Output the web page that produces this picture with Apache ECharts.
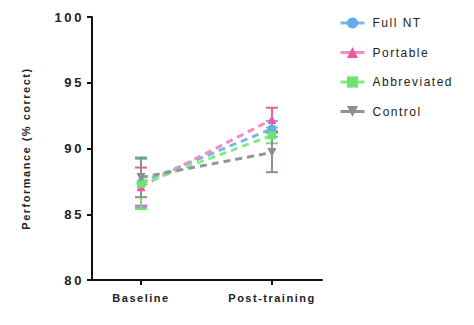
<!DOCTYPE html>
<html>
<head>
<meta charset="utf-8">
<script src="https://cdn.jsdelivr.net/npm/echarts@6/dist/echarts.min.js"></script>
<style>
html,body{margin:0;padding:0;background:#fff;}
#c{width:474px;height:325px;}
#c svg text{letter-spacing:1.5px;}
#c svg text[style*="13px"]{letter-spacing:2.6px;}
</style>
</head>
<body>
<div id="c"></div>
<script>
var categories = ['Baseline', 'Post-training'];
var seriesNames = ['Full NT', 'Portable', 'Abbreviated', 'Control'];
var fullNT = [87.4, 91.5];
var portable = [87.1, 92.2];
var abbreviated = [87.3, 91.0];
var control = [87.8, 89.7];
var fullNTErr = [1.9, 0.6];
var portableErr = [1.45, 0.9];
var abbreviatedErr = [1.9, 0.6];
var controlErr = [1.5, 1.5];
var yTicks = [80, 85, 90, 95, 100];

var lineColors = ['#78b8ee', '#f48cbf', '#84ea84', '#8d9796'];
var markColors = ['#62aee9', '#ee5aa2', '#6fe36f', '#87918f'];
var symbols = ['circle', 'triangle', 'rect', 'triangle'];
var rotates = [0, 0, 0, 180];
var means = [fullNT, portable, abbreviated, control];
var errs = [fullNTErr, portableErr, abbreviatedErr, controlErr];

var font = 'Liberation Sans';
var series = [];
means.forEach(function (m, s) {
  var errData = m.map(function (v, i) { return [i, v - errs[s][i], v + errs[s][i]]; });
  series.push({
    type: 'custom',
    name: seriesNames[s] + ' err',
    z: 2,
    silent: true,
    data: errData,
    renderItem: function (params, api) {
      var lo = api.coord([api.value(0), api.value(1)]);
      var hi = api.coord([api.value(0), api.value(2)]);
      var w = 6;
      var st = { stroke: markColors[s], lineWidth: 2 };
      return {
        type: 'group',
        children: [
          { type: 'line', shape: { x1: lo[0], y1: lo[1], x2: hi[0], y2: hi[1] }, style: st },
          { type: 'line', shape: { x1: lo[0] - w, y1: lo[1], x2: lo[0] + w, y2: lo[1] }, style: st },
          { type: 'line', shape: { x1: hi[0] - w, y1: hi[1], x2: hi[0] + w, y2: hi[1] }, style: st }
        ]
      };
    }
  });
});
means.forEach(function (m, s) {
  series.push({
    type: 'line',
    name: seriesNames[s],
    z: 3,
    data: m.map(function (v, i) { return [i, v]; }),
    symbol: symbols[s],
    symbolRotate: rotates[s],
    symbolSize: s === 2 ? 8 : 9,
    showSymbol: true,
    lineStyle: { color: lineColors[s], width: 3, type: [7, 5] },
    itemStyle: { color: markColors[s] }
  });
});

var chart = echarts.init(document.getElementById('c'), null, { renderer: 'svg' });
chart.setOption({
  animation: false,
  backgroundColor: '#fff',
  grid: { left: 92, right: 152, top: 17, bottom: 45 },
  legend: {
    orient: 'vertical',
    left: 334,
    top: 12,
    itemWidth: 24,
    itemHeight: 14,
    itemGap: 17.5,
    data: seriesNames,
    lineStyle: { type: 'solid', width: 3 },
    textStyle: { fontFamily: font, fontSize: 12, fontWeight: 'normal', color: '#222', padding: [0, 0, 0, 3] }
  },
  xAxis: {
    type: 'value',
    min: -0.374,
    max: 1.382,
    splitLine: { show: false },
    axisLine: { onZero: false, lineStyle: { color: '#111', width: 2 } },
    axisTick: { show: true, length: 5, inside: false, lineStyle: { color: '#111', width: 2 }, customValues: [0, 1] },
    axisLabel: {
      customValues: [0, 1],
      margin: 12,
      fontFamily: font, fontSize: 11, fontWeight: 'bold', color: '#222',
      formatter: function (v) { return categories[Math.round(v)]; }
    }
  },
  yAxis: {
    type: 'value',
    min: yTicks[0],
    max: yTicks[yTicks.length - 1],
    interval: 5,
    name: 'Performance (% correct)',
    nameLocation: 'middle',
    nameGap: 61,
    nameTextStyle: { fontFamily: font, fontSize: 11, fontWeight: 'bold', color: '#222' },
    splitLine: { show: false },
    axisLine: { show: true, onZero: false, lineStyle: { color: '#111', width: 2 } },
    axisTick: { show: true, length: 5, inside: false, lineStyle: { color: '#111', width: 2 } },
    axisLabel: { margin: 8, fontFamily: font, fontSize: 13, fontWeight: 'bold', color: '#222' }
  },
  series: series
});
</script>
</body>
</html>
